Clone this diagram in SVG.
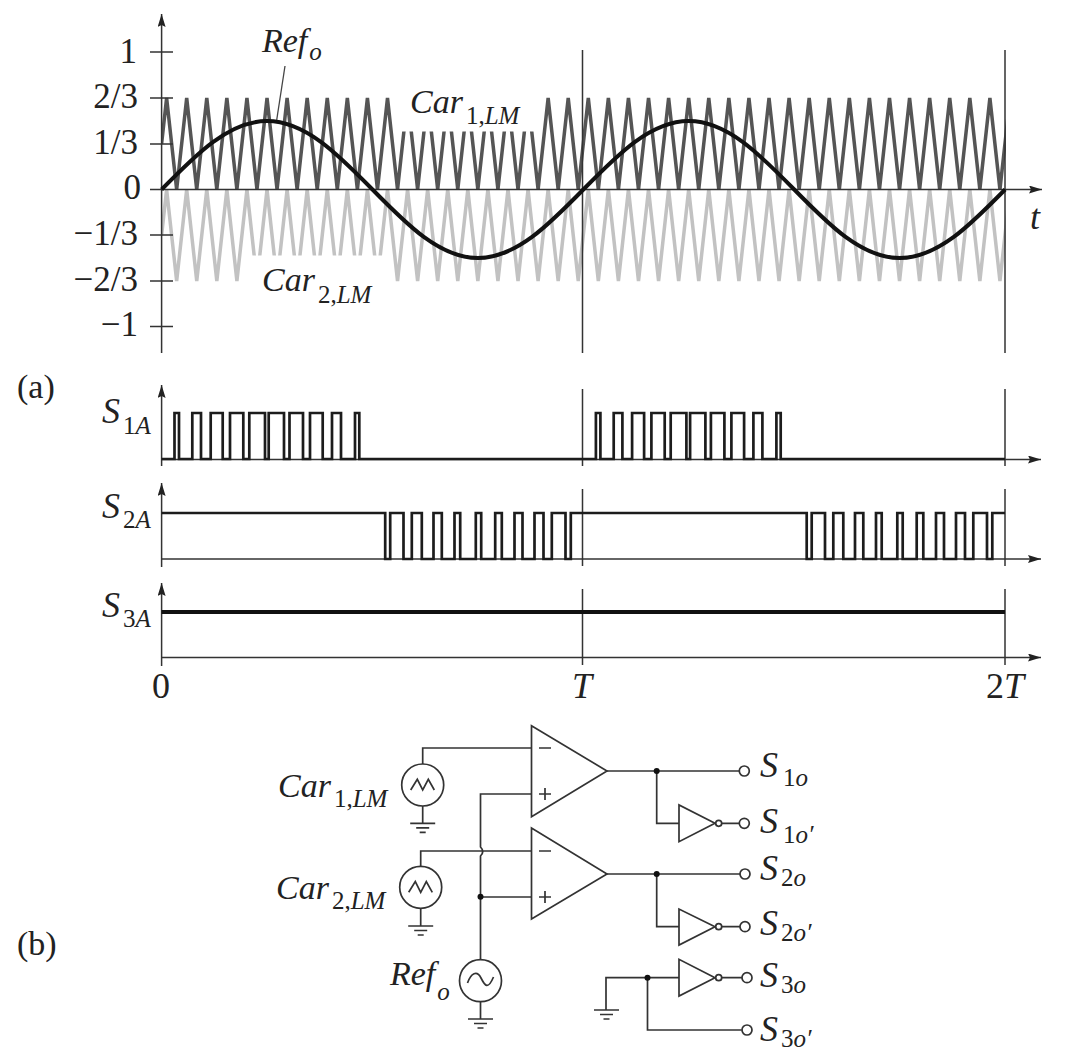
<svg xmlns="http://www.w3.org/2000/svg" width="1085" height="1058" viewBox="0 0 1085 1058">
<style>
text{font-family:"Liberation Serif","Times New Roman",serif;font-size:34px;fill:#222}
.i{font-style:italic}
.b{font-size:36px}
.s{font-size:25px}
.n{font-style:normal}
.t{font-size:35px}
.ax{fill:none;stroke:#333;stroke-width:1.5}
.w{fill:none;stroke:#333;stroke-width:1.7}
.p{fill:none;stroke:#1c1c1c;stroke-width:2.7}
.c{fill:#fff;stroke:#333;stroke-width:1.7}
.d{fill:#111}
</style>
<defs>
<marker id="ah" markerUnits="userSpaceOnUse" markerWidth="14" markerHeight="10" refX="13" refY="4" orient="auto"><path d="M0 0L13 4L0 8L2 4Z" fill="#222"/></marker>
<clipPath id="span"><rect x="161" y="80" width="845" height="220"/></clipPath>
<path id="car" fill="none" stroke-width="3.5" d="M161.6 143.75l5.02 -45.75l10.04 91.5l10.04 -91.5l10.04 91.5l10.04 -91.5l10.04 91.5l10.04 -91.5l10.04 91.5l10.04 -91.5l10.04 91.5l10.04 -91.5l10.04 91.5l10.04 -91.5l10.04 91.5l10.04 -91.5l10.04 91.5l10.04 -91.5l10.04 91.5l10.04 -91.5l10.04 91.5l10.04 -91.5l10.04 91.5l10.04 -91.5l10.04 91.5l10.04 -91.5l10.04 91.5l10.04 -91.5l10.04 91.5l10.04 -91.5l10.04 91.5l10.04 -91.5l10.04 91.5l10.04 -91.5l10.04 91.5l10.04 -91.5l10.04 91.5l10.04 -91.5l10.04 91.5l10.04 -91.5l10.04 91.5l10.04 -91.5l10.04 91.5l10.04 -91.5l10.04 91.5l10.04 -91.5l10.04 91.5l10.04 -91.5l10.04 91.5l10.04 -91.5l10.04 91.5l10.04 -91.5l10.04 91.5l10.04 -91.5l10.04 91.5l10.04 -91.5l10.04 91.5l10.04 -91.5l10.04 91.5l10.04 -91.5l10.04 91.5l10.04 -91.5l10.04 91.5l10.04 -91.5l10.04 91.5l10.04 -91.5l10.04 91.5l10.04 -91.5l10.04 91.5l10.04 -91.5l10.04 91.5l10.04 -91.5l10.04 91.5l10.04 -91.5l10.04 91.5l10.04 -91.5l10.04 91.5l10.04 -91.5l10.04 91.5l10.04 -91.5l10.04 91.5l10.04 -91.5l10.04 91.5l10.04 -91.5l10.04 91.5l10.04 -91.5l10.04 91.5l10.04 -91.5l10.04 91.5l10.04 -91.5l10.04 91.5l10.04 -91.5l10.04 91.5l5.02 -45.75"/>
<path id="gnd" class="w" d="M0 0H25M6 4.5H19M9.5 9H15.5"/>
</defs>
<rect width="1085" height="1058" fill="#fff"/>

<g id="chart-a">
<g clip-path="url(#span)">
<use href="#car" stroke="#c2c2c2" transform="translate(0 91.5)"/>
<use href="#car" stroke="#555"/>
</g>
<rect x="400" y="88" width="137" height="43.5" fill="#fff"/>
<rect x="245" y="255.5" width="143" height="34" fill="#fff"/>
<path class="ax" marker-end="url(#ah)" d="M161.6 353V14"/>
<path class="ax" marker-end="url(#ah)" d="M150 189.5H1042"/>
<path class="ax" d="M150 52H173M150 98H173M150 144H173M150 235H173M150 281H173M150 326.500H173M582.500 50V353M1005 50V353"/>
<path fill="none" stroke="#111" stroke-width="4" d="M161.6 189.500c34.400 -35.100 67.250 -68.500 105.440 -68.500c38.190 0 71.040 33.400 105.440 68.500c34.400 35.100 67.250 68.500 105.440 68.500c38.190 0 71.040 -33.400 105.440 -68.500c34.400 -35.100 67.250 -68.500 105.440 -68.500c38.190 0 71.040 33.400 105.440 68.500c34.400 35.100 67.250 68.500 105.440 68.500c38.190 0 71.040 -33.400 105.440 -68.500"/>
<path fill="none" stroke="#444" stroke-width="1.3" d="M285 66L276.700 120"/>
<g text-anchor="end">
<text class="t" x="137" y="63">1</text>
<text class="t" x="138" y="108">2/3</text>
<text class="t" x="138" y="154">1/3</text>
<text class="t" x="141" y="199">0</text>
<text class="t" x="138" y="245">−1/3</text>
<text class="t" x="138" y="291">−2/3</text>
<text class="t" x="138" y="336">−1</text>
</g>
<text class="i" x="262" y="52">Ref<tspan class="s" dx="2" dy="8">o</tspan></text>
<text class="i" x="410" y="113">Car<tspan class="s n" dx="3" dy="11">1</tspan><tspan class="s n">,</tspan><tspan class="s">LM</tspan></text>
<text class="i" x="262" y="291">Car<tspan class="s n" dx="3" dy="12">2</tspan><tspan class="s n">,</tspan><tspan class="s">LM</tspan></text>
<text class="i b" x="1030" y="229">t</text>
<text x="17" y="398">(a)</text>
</g>

<g id="chart-s">
<path class="ax" marker-end="url(#ah)" d="M161.600 466V385"/>
<path class="ax" marker-end="url(#ah)" d="M161.600 567V483"/>
<path class="ax" marker-end="url(#ah)" d="M161.600 666V583"/>
<path class="ax" marker-end="url(#ah)" d="M161.600 459.500H1041"/>
<path class="ax" marker-end="url(#ah)" d="M161.600 559H1041"/>
<path class="ax" marker-end="url(#ah)" d="M161.600 657.500H1041"/>
<path class="ax" d="M582.500 389V466M582.500 489V566M582.500 589V665M1005 389V466M1005 489V566M1005 589V665"/>
<path class="p" d="M161.600 459H174.500V413H179V459H192.300V413H201V459H210.700V413H222.700V459H230V413H243.300V459H249.300V413H265V459H268.700V413H284V459H289.500V413H303V459H310V413H322.700V459H332V413H341V459H355V413H359.300V459H595.900V413H600.400V459H613.700V413H622.400V459H632.100V413H644.100V459H651.400V413H664.700V459H670.700V413H686.400V459H690.100V413H705.400V459H710.900V413H724.400V459H731.400V413H744.100V459H753.400V413H762.400V459H776.400V413H780.700V459H1005"/>
<path class="p" d="M161.600 513H385.200V559H390.200V513H403.500V559H411.800V513H421.800V559H433.500V513H441.800V559H454.500V513H460.200V559H475.800V513H481.200V559H495.200V513H501.800V559H514.500V513H522.500V559H534.500V513H543.500V559H551.800V513H565.500V559H570.800V513H806.700V559H811.700V513H825V559H833.300V513H843.300V559H855V513H863.300V559H876V513H881.700V559H897.300V513H902.700V559H916.700V513H923.300V559H936V513H944V559H956V513H965V559H973.300V513H987V559H992.300V513H1005"/>
<path fill="none" stroke="#111" stroke-width="4" d="M161.600 612H1005"/>
<text class="i b" x="102" y="423">S<tspan class="s n" dx="3" dy="11">1</tspan><tspan class="s">A</tspan></text>
<text class="i b" x="102" y="518">S<tspan class="s n" dx="3" dy="10">2</tspan><tspan class="s">A</tspan></text>
<text class="i b" x="102" y="617">S<tspan class="s n" dx="3" dy="10">3</tspan><tspan class="s">A</tspan></text>
<text class="b" x="161" y="698" text-anchor="middle">0</text>
<text class="i b" x="582" y="698" text-anchor="middle">T</text>
<text class="b" x="1005" y="698" text-anchor="middle">2<tspan class="i">T</tspan></text>
</g>

<g id="connectors">
<path class="w" d="M422.700 764V748H531.500M422.700 806V823M420.700 866V851H531.500M420.700 908V926M480.500 959V898V856q4.500 -4.500 0 -9V794H531.500M480.500 897H531.500M480.500 1002V1019"/>
<path class="w" d="M607 771H739.300M656.700 771V823.300H679M722 823.300H739.300M607 874H740M656.700 874V926.700H679M722 926.700H740M606 1010V977.700H679M722 977.700H742M647.500 977.700V1030H741.700"/>
<circle class="d" cx="656.700" cy="771" r="3"/>
<circle class="d" cx="656.700" cy="874" r="3"/>
<circle class="d" cx="480.500" cy="896.700" r="3"/>
<circle class="d" cx="647.500" cy="977.700" r="3"/>
</g>

<g id="comp1"><path class="c" d="M531.500 725.700V816.700L607 771Z"/><path class="w" d="M539 748H551M539 794H551M545 788V800"/></g>
<g id="comp2"><path class="c" d="M531.500 828V919L607 874Z"/><path class="w" d="M539 851H551M539 897H551M545 891V903"/></g>

<g id="src-car1"><circle class="c" cx="422.700" cy="785" r="21"/><path class="w" d="M410.700 790L417.300 779.300L422.700 790L428.300 779.300L434.300 790"/><use href="#gnd" x="410.200" y="823.300"/>
<text class="i" x="278" y="797">Car<tspan class="s n" dx="3" dy="10">1</tspan><tspan class="s n">,</tspan><tspan class="s">LM</tspan></text></g>
<g id="src-car2"><circle class="c" cx="420.700" cy="887.300" r="21"/><path class="w" d="M408.700 892.300L415.300 881.600L420.700 892.300L426.300 881.600L432.300 892.300"/><use href="#gnd" x="408.200" y="926"/>
<text class="i" x="276" y="899">Car<tspan class="s n" dx="3" dy="10">2</tspan><tspan class="s n">,</tspan><tspan class="s">LM</tspan></text></g>
<g id="src-ref"><circle class="c" cx="480.500" cy="980.700" r="21"/><path class="w" d="M467.500 983C471 973 477 970 481 978S488 990 493.500 977"/><use href="#gnd" x="468" y="1019"/>
<text class="i" x="390" y="985">Ref<tspan class="s" dx="2" dy="15">o</tspan></text></g>

<g id="inv1"><path class="c" d="M679 805V841.700L715 823.300Z"/><circle class="c" cx="718.700" cy="823.300" r="3"/></g>
<g id="inv2"><path class="c" d="M679 909V945L715 926.700Z"/><circle class="c" cx="718.700" cy="926.700" r="3"/></g>
<g id="inv3"><path class="c" d="M679 959.300V996L715 977.700Z"/><circle class="c" cx="718.700" cy="977.700" r="3"/></g>
<g id="gnd3"><use href="#gnd" x="594" y="1010"/></g>

<g id="out1"><circle class="c" cx="744.300" cy="771" r="5"/><text class="i b" x="760" y="777">S<tspan class="s n" dx="5" dy="9">1</tspan><tspan class="s">o</tspan></text></g>
<g id="out2"><circle class="c" cx="744.300" cy="823.300" r="5"/><text class="i b" x="760" y="833">S<tspan class="s n" dx="5" dy="10">1</tspan><tspan class="s">o′</tspan></text></g>
<g id="out3"><circle class="c" cx="745" cy="874" r="5"/><text class="i b" x="760" y="880">S<tspan class="s n" dx="3" dy="6">2</tspan><tspan class="s">o</tspan></text></g>
<g id="out4"><circle class="c" cx="745" cy="926.700" r="5"/><text class="i b" x="760" y="935">S<tspan class="s n" dx="3" dy="6">2</tspan><tspan class="s">o′</tspan></text></g>
<g id="out5"><circle class="c" cx="747" cy="977.700" r="5"/><text class="i b" x="760" y="987">S<tspan class="s n" dx="3" dy="6">3</tspan><tspan class="s">o</tspan></text></g>
<g id="out6"><circle class="c" cx="747" cy="1030" r="5"/><text class="i b" x="760" y="1041">S<tspan class="s n" dx="3" dy="6">3</tspan><tspan class="s">o′</tspan></text></g>
<text id="label-b" x="17" y="955">(b)</text>
</svg>
